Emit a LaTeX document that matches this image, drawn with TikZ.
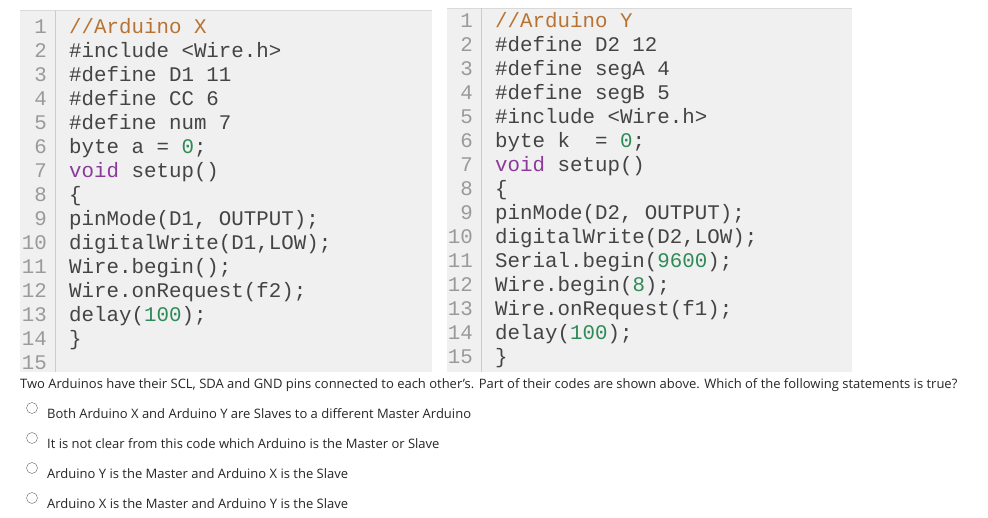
\documentclass[tikz,border=0pt]{standalone}
\usepackage{fontspec}
\setmainfont{Open Sans}
\newfontfamily\codefont{Liberation Mono}
\definecolor{panel}{HTML}{F0F0F0}
\definecolor{lnum}{HTML}{9A9A9A}
\definecolor{cmt}{HTML}{B87333}
\definecolor{kw}{HTML}{8B3A9A}
\definecolor{nm}{HTML}{2E8B57}
\definecolor{codec}{HTML}{444444}
\newcommand{\cm}[1]{\textcolor{cmt}{#1}}
\newcommand{\kwd}[1]{\textcolor{kw}{#1}}
\newcommand{\nmb}[1]{\textcolor{nm}{#1}}
\begin{document}
\begin{tikzpicture}[x=1pt,y=-1pt,
  code/.style={anchor=base west,inner sep=0,font=\codefont\fontsize{20.8}{22}\selectfont,text=codec},
  num/.style={anchor=base east,inner sep=0,font=\codefont\fontsize{20.8}{22}\selectfont,text=lnum},
  txt/.style={anchor=base west,inner sep=0,font=\fontsize{13}{15}\selectfont,text=black!85},
  radio/.style={draw=black!60,circle,minimum size=11pt,inner sep=0,fill=white}]
\useasboundingbox (0,0) rectangle (988,518);
\fill[white] (0,0) rectangle (988,518);
\fill[panel] (20,10) rectangle (432,372);
\fill[panel] (447,8) rectangle (852,372);
\draw[black!15] (20,10) -- (432,10);
\draw[black!15] (447,8) -- (852,8);
\draw[black!20] (55,10) -- (55,372);
\draw[black!20] (481,8) -- (481,372);
% left
\foreach \i in {1,...,15}{ \node[num] (ln\i) at (47,{34+24*(\i-1)}) {\i}; }
\node[code] (a1) at (69,34) {\cm{//Arduino X}};
\node[code] (a2) at (69,58) {\#include <Wire.h>};
\node[code] (a3) at (69,82) {\#define D1 11};
\node[code] (a4) at (69,106) {\#define CC 6};
\node[code] (a5) at (69,130) {\#define num 7};
\node[code] (a6) at (69,154) {byte a = \nmb{0};};
\node[code] (a7) at (69,178) {\kwd{void} setup()};
\node[code] (a8) at (69,202) {\{};
\node[code] (a9) at (69,226) {pinMode(D1, OUTPUT);};
\node[code] (a10) at (69,250) {digitalWrite(D1,LOW);};
\node[code] (a11) at (69,274) {Wire.begin();};
\node[code] (a12) at (69,298) {Wire.onRequest(f2);};
\node[code] (a13) at (69,322) {delay(\nmb{100});};
\node[code] (a14) at (69,346) {\}};
% right
\foreach \i in {1,...,15}{ \node[num] (rn\i) at (473,{28+24*(\i-1)}) {\i}; }
\node[code] (b1) at (495,28) {\cm{//Arduino Y}};
\node[code] (b2) at (495,52) {\#define D2 12};
\node[code] (b3) at (495,76) {\#define segA 4};
\node[code] (b4) at (495,100) {\#define segB 5};
\node[code] (b5) at (495,124) {\#include <Wire.h>};
\node[code] (b6) at (495,148) {byte k\ \ = \nmb{0};};
\node[code] (b7) at (495,172) {\kwd{void} setup()};
\node[code] (b8) at (495,196) {\{};
\node[code] (b9) at (495,220) {pinMode(D2, OUTPUT);};
\node[code] (b10) at (495,244) {digitalWrite(D2,LOW);};
\node[code] (b11) at (495,268) {Serial.begin(\nmb{9600});};
\node[code] (b12) at (495,292) {Wire.begin(\nmb{8});};
\node[code] (b13) at (495,316) {Wire.onRequest(f1);};
\node[code] (b14) at (495,340) {delay(\nmb{100});};
\node[code] (b15) at (495,364) {\}};
% question
\node[txt] (q) at (20,389) {Two Arduinos have their SCL, SDA and GND pins connected to each other's. Part of their codes are shown above. Which of the following statements is true?};
\node[radio] (r1) at (32,408) {};
\node[txt] (o1) at (47,418) {Both Arduino X and Arduino Y are Slaves to a different Master Arduino};
\node[radio] (r2) at (32,438) {};
\node[txt] (o2) at (47,448) {It is not clear from this code which Arduino is the Master or Slave};
\node[radio] (r3) at (32,468) {};
\node[txt] (o3) at (47,478) {Arduino Y is the Master and Arduino X is the Slave};
\node[radio] (r4) at (32,498) {};
\node[txt] (o4) at (47,508) {Arduino X is the Master and Arduino Y is the Slave};
\end{tikzpicture}
\end{document}
